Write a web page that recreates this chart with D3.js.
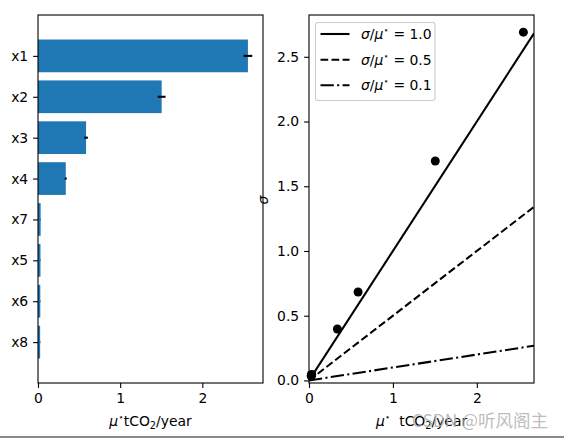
<!DOCTYPE html>
<html><head><meta charset="utf-8">
<script src="https://cdn.jsdelivr.net/npm/d3@7"></script>
<style>
body{margin:0;background:#fff;}
text{font-family:"DejaVu Sans",sans-serif;}
</style></head>
<body><svg id="c" width="564" height="438"></svg>
<script>
// ---- data ----
const names = ["x1","x2","x3","x4","x7","x5","x6","x8"];
const muStar = [2.555, 1.505, 0.585, 0.338, 0.032, 0.030, 0.028, 0.026];
const muStarConf = [0.053, 0.047, 0.022, 0.012, 0.002, 0.002, 0.002, 0.002];
const sigma = [2.69, 1.695, 0.683, 0.397, 0.046, 0.042, 0.038, 0.034];
const ratios = [1.0, 0.5, 0.1];
const ratioLabels = ["1.0","0.5","0.1"];
const xTicksLeft = [0,1,2];
const xTicksRight = [0,1,2];
const yTicksRight = [0.0,0.5,1.0,1.5,2.0,2.5];

const svg = d3.select("#c");
const FS = 13.9;
const plotTop = 15, plotBottom = 383;
const L = {x0:38, x1:263}, R = {x0:309, x1:534};
const tickLen = 4.9, pad = 4.9;

// ---- left: horizontal bar plot ----
const xL = d3.scaleLinear().domain([0, d3.max(muStar.map((m,i)=>m+muStarConf[i]))*1.05]).range([L.x0, L.x1]);
const yL = d3.scaleLinear().domain([-1, names.length]).range([plotTop, plotBottom]);
const gL = svg.append("g");
gL.selectAll("rect.bar").data(muStar).join("rect")
  .attr("x", xL(0)).attr("y", (d,i)=>yL(i-0.4))
  .attr("width", d=>xL(d)-xL(0)).attr("height", (d,i)=>yL(i+0.4)-yL(i-0.4))
  .attr("fill","#1f77b4");
gL.selectAll("line.err").data(muStar).join("line")
  .attr("x1",(d,i)=>xL(d-muStarConf[i])).attr("x2",(d,i)=>xL(d+muStarConf[i]))
  .attr("y1",(d,i)=>yL(i)).attr("y2",(d,i)=>yL(i))
  .attr("stroke","black").attr("stroke-width",2.08);
const axL = d3.axisBottom(xL).tickValues(xTicksLeft).tickFormat(d3.format("d")).tickSize(tickLen).tickPadding(pad);
gL.append("g").attr("transform",`translate(0,${plotBottom})`).call(axL);
const ayL = d3.axisLeft(yL).tickValues(d3.range(names.length)).tickFormat(i=>names[i]).tickSize(tickLen).tickPadding(pad);
gL.append("g").attr("transform",`translate(${L.x0},0)`).call(ayL);
gL.append("rect").attr("x",L.x0).attr("y",plotTop).attr("width",L.x1-L.x0).attr("height",plotBottom-plotTop)
  .attr("fill","none").attr("stroke","black").attr("stroke-width",1.1);

// ---- right: covariance plot ----
const muMin = d3.min(muStar), muMax = d3.max(muStar);
const xR = d3.scaleLinear().domain([0, muMax + 0.05*(muMax-muMin)]).range([R.x0, R.x1]);
const sMin = d3.min(sigma), sMax = d3.max(sigma);
const yTop = sMax + 0.05*(sMax-sMin);
const yR = d3.scaleLinear().domain([-0.007*yTop, yTop]).range([plotBottom, plotTop]);
const gR = svg.append("g");
svg.append("clipPath").attr("id","clipR").append("rect")
  .attr("x",R.x0).attr("y",plotTop).attr("width",R.x1-R.x0).attr("height",plotBottom-plotTop);
const dashes = [null, "7.7,3.33", "13.3,3.33,2.08,3.33"];
const xb = xR.domain();
const lineGen = d3.line().x(d=>xR(d[0])).y(d=>yR(d[1]));
ratios.forEach((r,k)=>{
  gR.append("path").attr("d", lineGen([[xb[0], r*xb[0]],[xb[1], r*xb[1]]]))
    .attr("stroke","black").attr("stroke-width",2.08).attr("fill","none")
    .attr("stroke-dasharray", dashes[k]).attr("clip-path","url(#clipR)");
});
gR.selectAll("circle").data(muStar).join("circle")
  .attr("cx",d=>xR(d)).attr("cy",(d,i)=>yR(sigma[i])).attr("r",4.5).attr("fill","black");
const axR = d3.axisBottom(xR).tickValues(xTicksRight).tickFormat(d3.format("d")).tickSize(tickLen).tickPadding(pad);
gR.append("g").attr("transform",`translate(0,${plotBottom})`).call(axR);
const ayR = d3.axisLeft(yR).tickValues(yTicksRight).tickFormat(d3.format(".1f")).tickSize(tickLen).tickPadding(pad);
gR.append("g").attr("transform",`translate(${R.x0},0)`).call(ayR);
gR.append("rect").attr("x",R.x0).attr("y",plotTop).attr("width",R.x1-R.x0).attr("height",plotBottom-plotTop)
  .attr("fill","none").attr("stroke","black").attr("stroke-width",1.1);

// style axes
svg.selectAll(".domain").remove();
svg.selectAll(".tick line").attr("stroke","black").attr("stroke-width",1.1);
svg.selectAll(".tick text").attr("font-size",FS).attr("fill","black").style("font-family","DejaVu Sans");

// legend
const lg = gR.append("g");
lg.append("rect").attr("x",315.5).attr("y",22.5).attr("width",119.5).attr("height",78)
  .attr("rx",2.5).attr("fill","white").attr("fill-opacity",0.8).attr("stroke","#cccccc").attr("stroke-width",1.1);
const rowY = [34, 59.7, 85.3];
ratios.forEach((r,k)=>{
  lg.append("line").attr("x1",320.5).attr("x2",349.5).attr("y1",rowY[k]).attr("y2",rowY[k])
    .attr("stroke","black").attr("stroke-width",2.08).attr("stroke-dasharray",dashes[k]);
  const t = lg.append("text").attr("x",361).attr("y",rowY[k]+5).attr("font-size",FS);
  t.append("tspan").attr("font-style","italic").text("σ");
  t.append("tspan").text("/");
  t.append("tspan").attr("font-style","italic").text("μ");
  t.append("tspan").attr("font-size",9).attr("dy",-6).text("⋆");
  t.append("tspan").attr("dy",6).text(" = " + ratioLabels[k]);
});

// axis labels
function muLabel(x, sp){
  const t = svg.append("text").attr("x",x).attr("y",426).attr("text-anchor","middle").attr("font-size",FS);
  t.append("tspan").attr("font-style","italic").text("μ");
  t.append("tspan").attr("font-size",9).attr("dy",-6).text("⋆");
  t.append("tspan").attr("dy",6).text(sp+"tCO");
  t.append("tspan").attr("font-size",9.7).attr("dy",3).text("2");
  t.append("tspan").attr("dy",-3).text("/year");
}
muLabel(150.5, "");
muLabel(421.5, "\u00a0\u00a0");
svg.append("text").attr("transform","translate(268,200) rotate(-90)").attr("text-anchor","middle")
  .attr("font-size",FS).attr("font-style","italic").text("σ");

// watermark (present in the reference image, overlapping the x label)
svg.append("text").attr("x",548).attr("y",427).attr("text-anchor","end").attr("font-size",17.5)
  .attr("fill","#b0b0b0").attr("fill-opacity",0.85).style("font-family","'Noto Sans CJK SC',sans-serif").text("CSDN @听风阁主");
svg.append("rect").attr("x",0).attr("y",436).attr("width",564).attr("height",2).attr("fill","#8a8a8a");
</script></body></html>
